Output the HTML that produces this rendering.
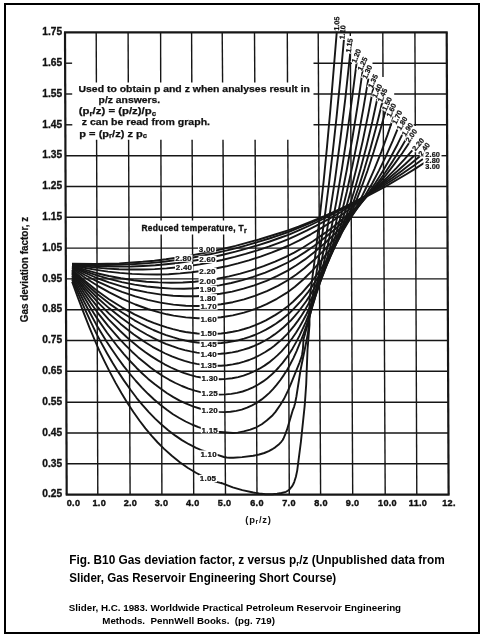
<!DOCTYPE html>
<html><head><meta charset="utf-8"><style>
html,body{margin:0;padding:0;background:#fff;}
body{width:483px;height:636px;overflow:hidden;position:relative;}
svg{position:absolute;left:0;top:0;}
text{font-family:"Liberation Sans",Arial,sans-serif;}
</style></head><body>
<svg width="483" height="636" viewBox="0 0 483 636" fill="#111">
<rect x="5" y="4" width="474" height="629" fill="none" stroke="#000" stroke-width="2"/>
<line x1="65.0" y1="32.4" x2="66.7" y2="494.6" stroke="#161616" stroke-width="2.2"/>
<line x1="96.2" y1="32.4" x2="96.4" y2="82.5" stroke="#161616" stroke-width="1.4"/>
<line x1="96.6" y1="139.8" x2="97.8" y2="494.6" stroke="#161616" stroke-width="1.4"/>
<line x1="128.1" y1="32.4" x2="128.3" y2="82.5" stroke="#161616" stroke-width="1.4"/>
<line x1="128.6" y1="139.8" x2="130.1" y2="494.6" stroke="#161616" stroke-width="1.4"/>
<line x1="160.6" y1="32.4" x2="160.7" y2="82.5" stroke="#161616" stroke-width="1.4"/>
<line x1="160.9" y1="139.8" x2="161.1" y2="220.5" stroke="#161616" stroke-width="1.4"/>
<line x1="161.2" y1="234.5" x2="161.9" y2="494.6" stroke="#161616" stroke-width="1.4"/>
<line x1="191.6" y1="32.4" x2="191.8" y2="82.5" stroke="#161616" stroke-width="1.4"/>
<line x1="192.1" y1="139.8" x2="192.5" y2="220.5" stroke="#161616" stroke-width="1.4"/>
<line x1="192.5" y1="234.5" x2="193.7" y2="494.6" stroke="#161616" stroke-width="1.4"/>
<line x1="222.2" y1="32.4" x2="222.6" y2="82.5" stroke="#161616" stroke-width="1.4"/>
<line x1="223.0" y1="139.8" x2="223.5" y2="220.5" stroke="#161616" stroke-width="1.4"/>
<line x1="223.6" y1="234.5" x2="225.5" y2="494.6" stroke="#161616" stroke-width="1.4"/>
<line x1="254.5" y1="32.4" x2="254.8" y2="82.5" stroke="#161616" stroke-width="1.4"/>
<line x1="255.1" y1="139.8" x2="257.0" y2="494.6" stroke="#161616" stroke-width="1.4"/>
<line x1="287.3" y1="32.4" x2="287.5" y2="82.5" stroke="#161616" stroke-width="1.4"/>
<line x1="287.8" y1="139.8" x2="289.3" y2="494.6" stroke="#161616" stroke-width="1.4"/>
<line x1="318.2" y1="32.4" x2="320.6" y2="494.6" stroke="#161616" stroke-width="1.4"/>
<line x1="350.3" y1="32.4" x2="350.3" y2="36.0" stroke="#161616" stroke-width="1.4"/>
<line x1="350.4" y1="52.0" x2="352.7" y2="494.6" stroke="#161616" stroke-width="1.4"/>
<line x1="382.8" y1="32.4" x2="383.0" y2="77.0" stroke="#161616" stroke-width="1.4"/>
<line x1="383.2" y1="103.0" x2="385.2" y2="494.6" stroke="#161616" stroke-width="1.4"/>
<line x1="414.9" y1="32.4" x2="415.3" y2="126.0" stroke="#161616" stroke-width="1.4"/>
<line x1="415.4" y1="152.0" x2="416.8" y2="494.6" stroke="#161616" stroke-width="1.4"/>
<line x1="446.7" y1="32.4" x2="448.6" y2="494.6" stroke="#161616" stroke-width="2.2"/>
<line x1="64.0" y1="32.4" x2="447.7" y2="32.4" stroke="#161616" stroke-width="2.2"/>
<line x1="65.1" y1="63.2" x2="72.1" y2="63.2" stroke="#161616" stroke-width="1.4"/>
<line x1="313.5" y1="63.2" x2="352.0" y2="63.2" stroke="#161616" stroke-width="1.4"/>
<line x1="372.5" y1="63.2" x2="446.8" y2="63.2" stroke="#161616" stroke-width="1.4"/>
<line x1="65.2" y1="94.0" x2="72.2" y2="94.0" stroke="#161616" stroke-width="1.4"/>
<line x1="313.5" y1="94.0" x2="371.0" y2="94.0" stroke="#161616" stroke-width="1.4"/>
<line x1="394.2" y1="94.0" x2="447.0" y2="94.0" stroke="#161616" stroke-width="1.4"/>
<line x1="65.3" y1="124.8" x2="72.3" y2="124.8" stroke="#161616" stroke-width="1.4"/>
<line x1="313.5" y1="124.8" x2="392.0" y2="124.8" stroke="#161616" stroke-width="1.4"/>
<line x1="410.3" y1="124.8" x2="447.1" y2="124.8" stroke="#161616" stroke-width="1.4"/>
<line x1="65.5" y1="155.7" x2="424.0" y2="155.7" stroke="#161616" stroke-width="1.4"/>
<line x1="441.0" y1="155.7" x2="447.2" y2="155.7" stroke="#161616" stroke-width="1.4"/>
<line x1="65.6" y1="186.5" x2="447.3" y2="186.5" stroke="#161616" stroke-width="1.4"/>
<line x1="65.7" y1="217.3" x2="447.5" y2="217.3" stroke="#161616" stroke-width="1.4"/>
<line x1="65.8" y1="248.1" x2="447.6" y2="248.1" stroke="#161616" stroke-width="1.4"/>
<line x1="65.9" y1="278.9" x2="447.7" y2="278.9" stroke="#161616" stroke-width="1.4"/>
<line x1="66.0" y1="309.7" x2="447.8" y2="309.7" stroke="#161616" stroke-width="1.4"/>
<line x1="66.1" y1="340.5" x2="448.0" y2="340.5" stroke="#161616" stroke-width="1.4"/>
<line x1="66.2" y1="371.3" x2="448.1" y2="371.3" stroke="#161616" stroke-width="1.4"/>
<line x1="66.4" y1="402.2" x2="448.2" y2="402.2" stroke="#161616" stroke-width="1.4"/>
<line x1="66.5" y1="433.0" x2="448.3" y2="433.0" stroke="#161616" stroke-width="1.4"/>
<line x1="66.6" y1="463.8" x2="448.5" y2="463.8" stroke="#161616" stroke-width="1.4"/>
<line x1="65.7" y1="494.6" x2="449.6" y2="494.6" stroke="#161616" stroke-width="2.2"/>
<path d="M72.1,281.8 L77.9,297.8 L83.7,312.9 L89.4,327.3 L95.1,341.0 L99.2,350.3 L105.0,362.3 L110.3,372.9 L115.6,382.9 L121.4,393.0 L127.1,402.4 L133.4,412.0 L139.4,420.5 L145.4,428.4 L151.5,435.7 L157.7,442.5 L164.1,448.9 L171.8,455.8 L179.8,462.2 L188.0,468.0 L196.4,473.0 L203.3,476.6 L210.1,479.6 L216.4,481.8 L220.3,482.9 L221.6,483.2 L221.1,482.9 L232.8,487.4 L242.3,490.1 L253.3,492.5 L259.1,493.5 L265.8,494.2 L272.3,494.2 L277.1,493.7 L281.5,493.0 L286.0,491.8 L287.8,490.7 L289.5,489.4 L291.8,486.7 L293.1,484.5 L294.3,481.8 L295.9,476.7 L297.2,470.6 L300.9,441.8 L304.7,405.7 L306.2,384.2 L307.5,350.0 L309.5,325.0 L309.5,297.5 L309.5,297.4 L309.7,297.7 L309.7,297.6 L311.0,288.1 L315.6,252.7 L320.2,212.9 L323.7,180.6 L327.0,146.8 L330.3,110.4 L336.8,31.6" fill="none" stroke="#161616" stroke-width="1.9" stroke-linejoin="round"/>
<path d="M72.1,279.3 L78.2,293.8 L84.2,307.7 L90.3,320.9 L96.3,333.4 L101.3,342.9 L107.0,353.2 L112.4,362.5 L117.9,371.4 L124.2,380.9 L130.5,389.8 L136.5,397.8 L142.6,405.2 L148.8,412.1 L155.1,418.6 L161.4,424.5 L168.2,430.3 L175.0,435.4 L181.9,440.1 L188.9,444.2 L196.1,447.8 L202.3,450.5 L208.5,452.6 L213.4,454.0 L217.4,454.9 L223.9,457.0 L226.8,457.5 L229.7,457.7 L233.3,457.7 L242.1,457.1 L253.2,455.8 L259.2,454.5 L264.3,453.0 L268.8,451.1 L272.9,448.8 L274.9,447.6 L278.4,444.8 L281.3,441.8 L282.5,440.2 L283.5,438.5 L285.0,434.9 L287.0,429.7 L292.6,410.7 L294.1,406.8 L295.1,403.2 L296.4,396.5 L300.4,370.8 L306.5,340.8 L308.0,332.6 L308.5,327.4 L308.8,315.3 L309.1,314.9 L309.5,312.7 L313.0,293.9 L318.2,262.1 L323.8,223.8 L328.9,184.4 L332.8,151.3 L336.6,116.6 L340.3,79.6 L343.9,39.9" fill="none" stroke="#161616" stroke-width="1.9" stroke-linejoin="round"/>
<path d="M72.1,277.3 L78.2,290.0 L84.2,302.0 L90.3,313.5 L96.2,324.4 L101.2,332.8 L106.7,341.7 L112.1,349.8 L117.6,357.7 L123.7,366.1 L130.0,374.0 L135.9,381.0 L141.9,387.6 L148.0,393.8 L154.1,399.5 L160.3,404.8 L166.8,409.8 L173.0,414.2 L179.3,418.0 L185.6,421.5 L192.0,424.5 L198.4,427.1 L204.7,429.1 L210.9,430.7 L217.3,431.8 L233.0,433.0 L237.8,432.6 L243.7,431.4 L250.3,429.6 L256.4,427.3 L261.8,424.2 L266.7,420.5 L272.7,415.2 L275.5,411.9 L280.4,404.8 L283.9,399.1 L287.9,390.9 L291.1,383.3 L299.3,363.1 L301.3,357.7 L302.0,355.0 L302.9,349.2 L303.6,338.1 L303.8,338.3 L305.1,333.8 L309.4,317.6 L312.8,303.2 L316.2,288.2 L323.3,252.1 L329.6,215.0 L335.0,179.6 L340.2,140.5 L345.3,98.7 L350.2,53.3" fill="none" stroke="#161616" stroke-width="1.9" stroke-linejoin="round"/>
<path d="M72.1,275.5 L78.3,286.9 L84.5,297.8 L90.7,308.2 L96.5,317.4 L107.1,332.7 L118.1,347.2 L124.1,354.3 L130.5,361.5 L136.4,367.7 L142.3,373.5 L148.2,378.9 L154.5,384.1 L160.5,388.6 L167.1,393.3 L173.4,397.1 L180.1,400.8 L186.3,403.7 L193.0,406.4 L199.7,408.5 L205.9,410.1 L212.1,411.3 L218.4,411.9 L224.6,412.1 L230.5,411.8 L236.3,410.9 L241.7,409.6 L247.1,407.7 L252.1,405.4 L257.1,402.6 L261.7,399.4 L265.6,396.3 L269.4,392.9 L273.2,388.9 L276.6,384.9 L280.4,380.0 L283.8,375.1 L287.2,369.7 L290.1,364.5 L293.4,358.1 L296.6,351.1 L302.7,336.2 L308.8,318.8 L314.4,300.0 L320.9,275.3 L326.3,252.4 L331.6,226.8 L336.6,200.4 L341.9,168.8 L346.8,136.6 L352.1,98.2 L356.6,62.6" fill="none" stroke="#161616" stroke-width="1.9" stroke-linejoin="round"/>
<path d="M72.1,274.1 L84.6,293.9 L91.0,303.4 L97.0,311.8 L108.1,325.9 L119.2,338.6 L125.4,345.1 L132.0,351.7 L138.2,357.4 L144.4,362.6 L150.5,367.5 L156.7,371.9 L163.2,376.2 L169.3,379.8 L175.4,383.0 L181.9,386.0 L188.4,388.6 L194.9,390.7 L201.4,392.3 L207.5,393.5 L213.6,394.2 L219.6,394.6 L225.7,394.4 L231.3,393.9 L237.0,392.9 L242.6,391.5 L247.8,389.7 L253.0,387.4 L258.3,384.5 L263.1,381.4 L267.1,378.4 L271.1,375.1 L275.1,371.3 L278.6,367.5 L282.6,362.8 L286.2,358.2 L288.8,354.5 L292.6,348.4 L296.0,342.4 L299.4,335.9 L305.8,322.1 L312.1,306.2 L318.0,289.0 L324.4,268.0 L330.1,247.3 L335.7,224.2 L341.2,198.4 L346.8,169.7 L352.4,138.0 L357.6,105.7 L362.7,70.4" fill="none" stroke="#161616" stroke-width="1.9" stroke-linejoin="round"/>
<path d="M72.1,272.9 L84.6,290.4 L90.9,298.6 L97.1,306.4 L108.6,319.4 L120.2,331.0 L126.6,337.0 L133.0,342.6 L139.0,347.4 L145.4,352.3 L151.4,356.4 L157.8,360.4 L164.6,364.3 L170.9,367.5 L177.3,370.4 L183.6,372.8 L189.9,374.9 L196.2,376.6 L202.5,377.8 L208.4,378.7 L214.7,379.2 L220.5,379.3 L226.3,378.9 L232.2,378.2 L238.1,377.1 L243.5,375.6 L248.9,373.7 L253.9,371.5 L259.4,368.7 L264.5,365.6 L269.1,362.4 L273.2,359.1 L277.4,355.4 L281.5,351.3 L285.2,347.2 L288.9,342.8 L292.4,338.0 L296.0,332.7 L299.5,327.0 L303.0,320.8 L306.6,314.0 L310.1,306.7 L316.2,292.6 L323.4,273.9 L329.7,255.3 L335.5,235.8 L341.4,214.0 L346.8,191.7 L352.6,165.1 L358.0,137.9 L363.4,108.2 L368.4,78.6" fill="none" stroke="#161616" stroke-width="1.9" stroke-linejoin="round"/>
<path d="M72.1,271.8 L84.6,287.5 L97.2,301.7 L109.1,313.6 L120.6,323.9 L126.8,329.0 L133.5,334.2 L140.2,338.9 L146.4,343.0 L152.5,346.8 L158.7,350.2 L165.3,353.5 L171.9,356.4 L178.5,358.9 L184.5,360.9 L190.6,362.6 L196.7,363.9 L202.8,364.9 L208.9,365.5 L214.9,365.8 L221.0,365.7 L227.1,365.2 L232.7,364.4 L238.3,363.3 L244.0,361.7 L249.1,360.0 L254.3,357.8 L260.0,355.0 L265.3,352.0 L270.1,348.9 L274.4,345.7 L278.7,342.1 L283.1,338.2 L286.9,334.3 L290.2,330.7 L294.3,325.6 L298.0,320.6 L301.7,315.2 L305.3,309.4 L312.2,297.2 L318.6,284.2 L322.8,274.9 L326.5,265.9 L333.1,248.7 L339.2,230.8 L345.3,210.8 L351.4,188.6 L357.0,165.9 L362.7,141.1 L368.3,113.9 L373.5,86.8" fill="none" stroke="#161616" stroke-width="1.9" stroke-linejoin="round"/>
<path d="M72.1,270.9 L84.6,284.8 L97.1,297.5 L109.0,308.1 L120.9,317.6 L127.4,322.3 L133.8,326.7 L140.2,330.7 L146.7,334.5 L153.1,337.9 L159.0,340.8 L165.8,343.8 L172.2,346.2 L178.5,348.3 L184.8,350.1 L190.6,351.4 L196.9,352.6 L203.2,353.4 L209.0,353.8 L214.8,353.9 L220.6,353.7 L226.4,353.2 L232.3,352.4 L238.1,351.2 L243.5,349.7 L248.9,348.0 L254.2,345.9 L259.7,343.4 L265.2,340.5 L270.1,337.5 L274.6,334.4 L279.1,331.1 L283.6,327.3 L290.5,320.8 L294.7,316.1 L298.6,311.5 L306.2,301.2 L313.3,290.0 L321.4,275.3 L328.3,261.5 L335.1,245.8 L341.9,228.2 L348.3,210.0 L354.6,189.7 L360.5,169.1 L366.4,146.5 L372.3,121.8 L377.6,97.2" fill="none" stroke="#161616" stroke-width="1.9" stroke-linejoin="round"/>
<path d="M72.1,270.1 L84.6,282.5 L97.0,293.8 L109.3,303.6 L121.7,312.3 L134.5,320.3 L141.2,324.0 L147.3,327.1 L153.4,330.0 L159.6,332.6 L166.1,335.1 L172.7,337.2 L179.2,339.1 L185.3,340.5 L191.3,341.7 L197.3,342.5 L203.3,343.1 L209.3,343.4 L215.3,343.3 L221.3,343.0 L227.4,342.3 L232.9,341.4 L238.5,340.2 L244.1,338.7 L249.6,336.9 L254.7,335.0 L260.3,332.5 L266.0,329.6 L271.2,326.6 L275.8,323.7 L280.5,320.4 L285.1,316.7 L288.7,313.7 L292.7,309.9 L300.6,301.4 L308.5,291.6 L315.8,280.9 L324.4,267.0 L331.5,253.9 L338.5,239.2 L345.1,223.9 L352.2,205.5 L358.3,188.2 L364.4,169.1 L370.5,148.2 L376.6,125.4 L382.2,102.6" fill="none" stroke="#161616" stroke-width="1.9" stroke-linejoin="round"/>
<path d="M72.1,269.5 L84.5,280.5 L96.8,290.5 L109.0,299.2 L121.8,307.3 L134.5,314.3 L147.3,320.3 L153.6,322.9 L160.0,325.2 L166.8,327.4 L173.0,329.2 L179.2,330.7 L185.5,332.0 L191.2,332.8 L197.4,333.5 L203.6,333.9 L209.3,334.0 L215.6,333.9 L221.2,333.5 L227.0,332.8 L232.7,331.8 L238.5,330.6 L244.2,329.0 L249.5,327.3 L254.7,325.4 L260.6,322.9 L265.9,320.4 L275.5,314.9 L280.3,311.8 L285.1,308.3 L288.9,305.4 L293.0,301.8 L301.1,293.8 L309.3,284.5 L317.0,274.5 L325.3,262.4 L333.2,249.4 L340.5,235.7 L347.3,221.6 L354.7,204.6 L361.0,188.6 L367.4,171.0 L373.7,151.8 L380.0,130.9 L385.8,110.0" fill="none" stroke="#161616" stroke-width="1.9" stroke-linejoin="round"/>
<path d="M72.1,268.3 L84.7,277.5 L96.8,285.3 L109.3,292.4 L122.3,298.9 L135.4,304.5 L147.8,309.0 L160.2,312.7 L166.9,314.3 L173.6,315.6 L185.8,317.4 L198.0,318.3 L209.5,318.3 L221.1,317.3 L232.8,315.4 L244.0,312.7 L249.6,310.9 L255.2,308.9 L260.9,306.7 L266.6,304.2 L276.9,298.8 L286.6,292.9 L294.9,286.7 L303.0,279.7 L312.3,270.6 L321.6,260.1 L329.5,250.3 L337.3,239.3 L345.2,227.1 L353.1,213.5 L360.4,199.6 L367.2,185.5 L374.6,168.7 L381.3,151.8 L387.5,134.9 L393.6,116.8" fill="none" stroke="#161616" stroke-width="1.9" stroke-linejoin="round"/>
<path d="M72.1,267.5 L84.9,275.0 L97.2,281.4 L109.9,287.2 L121.9,291.9 L135.2,296.4 L147.8,299.9 L160.4,302.6 L173.4,304.6 L185.8,305.7 L197.5,306.0 L209.2,305.6 L221.0,304.3 L232.8,302.2 L244.1,299.4 L254.8,295.9 L266.9,291.1 L277.9,285.9 L288.2,280.0 L296.3,274.5 L304.4,268.3 L313.7,260.3 L323.7,250.6 L332.1,241.6 L340.4,231.6 L348.8,220.6 L357.2,208.3 L365.0,195.8 L372.3,183.2 L378.9,170.6 L385.5,157.1 L392.6,141.1 L399.7,123.8" fill="none" stroke="#161616" stroke-width="1.9" stroke-linejoin="round"/>
<path d="M72.1,266.8 L84.5,272.7 L96.8,278.0 L108.9,282.4 L121.7,286.4 L134.4,289.8 L147.2,292.4 L159.9,294.4 L173.1,295.8 L184.9,296.3 L196.7,296.2 L208.5,295.3 L220.3,293.8 L232.2,291.6 L243.6,288.7 L254.3,285.4 L266.5,280.8 L277.4,275.9 L287.7,270.6 L296.4,265.3 L305.0,259.4 L314.2,252.3 L325.4,242.7 L334.3,234.3 L342.5,225.7 L350.7,216.3 L359.7,205.2 L368.0,193.9 L375.7,182.5 L383.4,170.2 L390.3,158.0 L397.8,143.7 L404.7,129.6" fill="none" stroke="#161616" stroke-width="1.9" stroke-linejoin="round"/>
<path d="M72.1,266.2 L84.5,271.1 L96.9,275.4 L109.0,278.9 L121.8,282.1 L134.6,284.6 L146.7,286.5 L159.5,287.8 L172.0,288.6 L183.9,288.7 L195.7,288.2 L207.5,287.1 L219.3,285.4 L231.2,283.0 L242.5,280.2 L253.2,276.9 L265.3,272.6 L276.9,267.7 L287.8,262.5 L296.3,257.7 L304.7,252.4 L314.4,245.7 L325.6,237.1 L335.0,229.2 L343.7,221.2 L353.1,211.8 L361.9,202.2 L370.0,192.6 L378.1,182.3 L384.9,173.0 L392.8,161.1 L400.8,148.3 L408.1,135.6" fill="none" stroke="#161616" stroke-width="1.9" stroke-linejoin="round"/>
<path d="M72.1,265.7 L84.5,269.7 L96.8,273.2 L108.9,276.0 L120.9,278.3 L133.7,280.3 L146.4,281.7 L158.5,282.4 L171.0,282.7 L182.8,282.5 L194.6,281.7 L206.3,280.4 L217.3,278.7 L229.1,276.4 L240.3,273.6 L251.5,270.3 L263.6,266.1 L275.1,261.6 L285.8,256.8 L294.2,252.6 L303.1,247.5 L313.3,241.0 L325.1,232.9 L334.3,226.0 L343.4,218.5 L353.3,209.7 L361.9,201.5 L370.4,192.7 L379.0,183.2 L386.1,174.8 L394.5,163.9 L402.2,153.2 L409.9,141.8" fill="none" stroke="#161616" stroke-width="1.9" stroke-linejoin="round"/>
<path d="M72.1,265.0 L84.2,267.7 L96.3,269.9 L108.0,271.6 L119.7,272.9 L132.1,273.9 L144.6,274.4 L157.1,274.5 L168.6,274.2 L180.1,273.4 L191.5,272.3 L202.9,270.8 L214.2,268.8 L226.4,266.3 L238.0,263.4 L248.8,260.3 L260.5,256.6 L271.5,252.6 L281.8,248.5 L288.9,245.5 L299.4,240.4 L310.7,234.3 L322.1,227.6 L332.2,221.3 L341.5,215.0 L352.4,207.1 L361.8,199.8 L371.2,192.0 L379.8,184.3 L387.6,176.9 L396.1,168.3 L404.6,159.1 L412.3,150.3" fill="none" stroke="#161616" stroke-width="1.9" stroke-linejoin="round"/>
<path d="M72.1,264.5 L84.5,266.3 L96.0,267.6 L107.1,268.6 L119.0,269.2 L130.9,269.5 L142.8,269.5 L154.7,269.1 L166.5,268.4 L178.2,267.3 L189.0,266.0 L199.7,264.4 L211.3,262.3 L222.0,260.0 L234.7,256.9 L245.6,253.9 L257.5,250.3 L268.7,246.6 L279.0,242.8 L288.5,239.1 L296.7,235.4 L306.6,230.7 L316.4,225.7 L329.0,218.9 L340.1,212.5 L350.2,206.1 L361.4,198.8 L370.8,192.1 L380.3,185.1 L387.9,179.0 L397.2,171.2 L405.6,163.7 L414.0,155.8" fill="none" stroke="#161616" stroke-width="1.9" stroke-linejoin="round"/>
<path d="M72.1,264.2 L83.7,265.3 L95.3,266.0 L107.3,266.5 L119.3,266.6 L131.3,266.5 L143.3,266.0 L155.3,265.3 L166.2,264.3 L177.9,263.0 L188.7,261.4 L199.5,259.7 L211.1,257.4 L221.9,255.0 L235.5,251.7 L246.5,248.7 L258.5,245.1 L269.7,241.5 L280.9,237.5 L288.4,234.8 L298.2,230.7 L309.7,225.5 L323.2,219.0 L333.3,213.9 L343.4,208.5 L354.5,202.3 L363.8,196.7 L374.0,190.3 L383.3,184.2 L392.5,177.7 L401.6,170.9 L410.8,163.8 L419.6,156.6" fill="none" stroke="#161616" stroke-width="1.9" stroke-linejoin="round"/>
<path d="M72.1,263.9 L83.6,264.5 L95.2,264.9 L107.1,265.0 L119.0,264.8 L130.9,264.3 L142.8,263.6 L154.8,262.6 L165.6,261.5 L177.3,259.9 L188.9,258.2 L199.5,256.3 L211.1,254.0 L221.7,251.6 L235.5,248.3 L246.3,245.4 L258.2,241.9 L269.3,238.5 L280.3,234.8 L288.4,232.0 L298.0,228.2 L309.5,223.4 L324.0,217.0 L343.8,207.5 L364.8,196.5 L383.8,185.5 L393.7,179.3 L403.6,172.8 L413.4,166.0 L422.9,159.1" fill="none" stroke="#161616" stroke-width="1.9" stroke-linejoin="round"/>
<path d="M72.1,263.7 L94.8,264.0 L107.5,263.8 L119.2,263.4 L142.7,261.8 L154.4,260.7 L166.0,259.3 L188.9,255.9 L210.6,251.7 L235.6,245.9 L259.0,239.5 L281.6,232.5 L288.1,230.4 L298.4,226.6 L309.7,222.1 L324.3,216.1 L345.5,206.7 L365.8,196.8 L385.2,186.6 L406.3,174.3 L415.8,168.4 L426.3,161.5" fill="none" stroke="#161616" stroke-width="1.9" stroke-linejoin="round"/>
<text x="62.3" y="35.1" font-size="10.2" font-weight="bold" text-anchor="end" letter-spacing="0.05" stroke="#111" stroke-width="0.32">1.75</text>
<text x="62.3" y="65.9" font-size="10.2" font-weight="bold" text-anchor="end" letter-spacing="0.05" stroke="#111" stroke-width="0.32">1.65</text>
<text x="62.3" y="96.7" font-size="10.2" font-weight="bold" text-anchor="end" letter-spacing="0.05" stroke="#111" stroke-width="0.32">1.55</text>
<text x="62.3" y="127.5" font-size="10.2" font-weight="bold" text-anchor="end" letter-spacing="0.05" stroke="#111" stroke-width="0.32">1.45</text>
<text x="62.3" y="158.4" font-size="10.2" font-weight="bold" text-anchor="end" letter-spacing="0.05" stroke="#111" stroke-width="0.32">1.35</text>
<text x="62.3" y="189.2" font-size="10.2" font-weight="bold" text-anchor="end" letter-spacing="0.05" stroke="#111" stroke-width="0.32">1.25</text>
<text x="62.3" y="220.0" font-size="10.2" font-weight="bold" text-anchor="end" letter-spacing="0.05" stroke="#111" stroke-width="0.32">1.15</text>
<text x="62.3" y="250.8" font-size="10.2" font-weight="bold" text-anchor="end" letter-spacing="0.05" stroke="#111" stroke-width="0.32">1.05</text>
<text x="62.3" y="281.6" font-size="10.2" font-weight="bold" text-anchor="end" letter-spacing="0.05" stroke="#111" stroke-width="0.32">0.95</text>
<text x="62.3" y="312.4" font-size="10.2" font-weight="bold" text-anchor="end" letter-spacing="0.05" stroke="#111" stroke-width="0.32">0.85</text>
<text x="62.3" y="343.2" font-size="10.2" font-weight="bold" text-anchor="end" letter-spacing="0.05" stroke="#111" stroke-width="0.32">0.75</text>
<text x="62.3" y="374.0" font-size="10.2" font-weight="bold" text-anchor="end" letter-spacing="0.05" stroke="#111" stroke-width="0.32">0.65</text>
<text x="62.3" y="404.9" font-size="10.2" font-weight="bold" text-anchor="end" letter-spacing="0.05" stroke="#111" stroke-width="0.32">0.55</text>
<text x="62.3" y="435.7" font-size="10.2" font-weight="bold" text-anchor="end" letter-spacing="0.05" stroke="#111" stroke-width="0.32">0.45</text>
<text x="62.3" y="466.5" font-size="10.2" font-weight="bold" text-anchor="end" letter-spacing="0.05" stroke="#111" stroke-width="0.32">0.35</text>
<text x="62.3" y="497.3" font-size="10.2" font-weight="bold" text-anchor="end" letter-spacing="0.05" stroke="#111" stroke-width="0.32">0.25</text>
<text x="73.5" y="506" font-size="9.1" font-weight="bold" text-anchor="middle" letter-spacing="0.3" stroke="#111" stroke-width="0.4">0.0</text>
<text x="99.3" y="506" font-size="9.1" font-weight="bold" text-anchor="middle" letter-spacing="0.3" stroke="#111" stroke-width="0.4">1.0</text>
<text x="130.4" y="506" font-size="9.1" font-weight="bold" text-anchor="middle" letter-spacing="0.3" stroke="#111" stroke-width="0.4">2.0</text>
<text x="161.5" y="506" font-size="9.1" font-weight="bold" text-anchor="middle" letter-spacing="0.3" stroke="#111" stroke-width="0.4">3.0</text>
<text x="192.8" y="506" font-size="9.1" font-weight="bold" text-anchor="middle" letter-spacing="0.3" stroke="#111" stroke-width="0.4">4.0</text>
<text x="224.6" y="506" font-size="9.1" font-weight="bold" text-anchor="middle" letter-spacing="0.3" stroke="#111" stroke-width="0.4">5.0</text>
<text x="257" y="506" font-size="9.1" font-weight="bold" text-anchor="middle" letter-spacing="0.3" stroke="#111" stroke-width="0.4">6.0</text>
<text x="289" y="506" font-size="9.1" font-weight="bold" text-anchor="middle" letter-spacing="0.3" stroke="#111" stroke-width="0.4">7.0</text>
<text x="321" y="506" font-size="9.1" font-weight="bold" text-anchor="middle" letter-spacing="0.3" stroke="#111" stroke-width="0.4">8.0</text>
<text x="352.6" y="506" font-size="9.1" font-weight="bold" text-anchor="middle" letter-spacing="0.3" stroke="#111" stroke-width="0.4">9.0</text>
<text x="387.5" y="506" font-size="9.1" font-weight="bold" text-anchor="middle" letter-spacing="0.3" stroke="#111" stroke-width="0.4">10.0</text>
<text x="418" y="506" font-size="9.1" font-weight="bold" text-anchor="middle" letter-spacing="0.3" stroke="#111" stroke-width="0.4">11.0</text>
<text x="449" y="506" font-size="9.1" font-weight="bold" text-anchor="middle" letter-spacing="0.3" stroke="#111" stroke-width="0.4">12.</text>
<text x="245.3" y="522.5" font-size="9.4" font-weight="bold" textLength="25.6" lengthAdjust="spacing">(p<tspan font-size="6.8" dy="1.8">r</tspan><tspan dy="-1.8">/z)</tspan></text>
<text transform="translate(27.9,322.3) rotate(-90)" font-size="10.3" font-weight="bold" stroke="#111" stroke-width="0.2" textLength="105.5" lengthAdjust="spacingAndGlyphs">Gas deviation factor, z</text>
<g font-size="9.3" font-weight="bold" stroke="#111" stroke-width="0.25">
<text x="78.5" y="91.8" textLength="231.5" lengthAdjust="spacingAndGlyphs">Used to obtain p and z when analyses result in</text>
<text x="98.6" y="103" textLength="61.5" lengthAdjust="spacingAndGlyphs">p/z answers.</text>
<text x="78.8" y="114.2" textLength="77.3" lengthAdjust="spacingAndGlyphs">(p<tspan font-size="6.5" dy="1.6">r</tspan><tspan dy="-1.6">/z) = (p/z)/p</tspan><tspan font-size="6.5" dy="1.6">c</tspan></text>
<text x="81.8" y="125.3" textLength="128.2" lengthAdjust="spacingAndGlyphs">z can be read from graph.</text>
<text x="79.3" y="136.5" textLength="67.8" lengthAdjust="spacingAndGlyphs">p = (p<tspan font-size="6.5" dy="1.6">r</tspan><tspan dy="-1.6">/z) z p</tspan><tspan font-size="6.5" dy="1.6">c</tspan></text>
</g>
<rect x="139" y="221" width="115" height="13" fill="#fff"/>
<text x="141.5" y="231" font-size="8.4" font-weight="bold" letter-spacing="0.3" stroke="#111" stroke-width="0.35">Reduced temperature, T<tspan font-size="6.8" dy="1.5">r</tspan></text>
<rect x="198.0" y="245.1" width="18" height="7.2" fill="#fff"/>
<text x="207.0" y="251.6" font-size="8.0" font-weight="bold" text-anchor="middle" letter-spacing="0.2" stroke="#111" stroke-width="0.22">3.00</text>
<rect x="174.5" y="254.6" width="18" height="7.2" fill="#fff"/>
<text x="183.5" y="261.1" font-size="8.0" font-weight="bold" text-anchor="middle" letter-spacing="0.2" stroke="#111" stroke-width="0.22">2.80</text>
<rect x="198.5" y="255.8" width="18" height="7.2" fill="#fff"/>
<text x="207.5" y="262.3" font-size="8.0" font-weight="bold" text-anchor="middle" letter-spacing="0.2" stroke="#111" stroke-width="0.22">2.60</text>
<rect x="175.0" y="263.9" width="18" height="7.2" fill="#fff"/>
<text x="184.0" y="270.4" font-size="8.0" font-weight="bold" text-anchor="middle" letter-spacing="0.2" stroke="#111" stroke-width="0.22">2.40</text>
<rect x="198.5" y="267.7" width="18" height="7.2" fill="#fff"/>
<text x="207.5" y="274.2" font-size="8.0" font-weight="bold" text-anchor="middle" letter-spacing="0.2" stroke="#111" stroke-width="0.22">2.20</text>
<rect x="198.6" y="277.1" width="18" height="7.2" fill="#fff"/>
<text x="207.6" y="283.6" font-size="8.0" font-weight="bold" text-anchor="middle" letter-spacing="0.2" stroke="#111" stroke-width="0.22">2.00</text>
<rect x="199.0" y="285.6" width="18" height="7.2" fill="#fff"/>
<text x="208.0" y="292.1" font-size="8.0" font-weight="bold" text-anchor="middle" letter-spacing="0.2" stroke="#111" stroke-width="0.22">1.90</text>
<rect x="199.0" y="294.1" width="18" height="7.2" fill="#fff"/>
<text x="208.0" y="300.6" font-size="8.0" font-weight="bold" text-anchor="middle" letter-spacing="0.2" stroke="#111" stroke-width="0.22">1.80</text>
<rect x="199.6" y="302.6" width="18" height="7.2" fill="#fff"/>
<text x="208.6" y="309.1" font-size="8.0" font-weight="bold" text-anchor="middle" letter-spacing="0.2" stroke="#111" stroke-width="0.22">1.70</text>
<rect x="199.6" y="315.3" width="18" height="7.2" fill="#fff"/>
<text x="208.6" y="321.8" font-size="8.0" font-weight="bold" text-anchor="middle" letter-spacing="0.2" stroke="#111" stroke-width="0.22">1.60</text>
<rect x="199.6" y="329.1" width="18" height="7.2" fill="#fff"/>
<text x="208.6" y="335.6" font-size="8.0" font-weight="bold" text-anchor="middle" letter-spacing="0.2" stroke="#111" stroke-width="0.22">1.50</text>
<rect x="199.6" y="340.7" width="18" height="7.2" fill="#fff"/>
<text x="208.6" y="347.2" font-size="8.0" font-weight="bold" text-anchor="middle" letter-spacing="0.2" stroke="#111" stroke-width="0.22">1.45</text>
<rect x="199.6" y="350.6" width="18" height="7.2" fill="#fff"/>
<text x="208.6" y="357.1" font-size="8.0" font-weight="bold" text-anchor="middle" letter-spacing="0.2" stroke="#111" stroke-width="0.22">1.40</text>
<rect x="199.6" y="361.4" width="18" height="7.2" fill="#fff"/>
<text x="208.6" y="367.9" font-size="8.0" font-weight="bold" text-anchor="middle" letter-spacing="0.2" stroke="#111" stroke-width="0.22">1.35</text>
<rect x="200.8" y="374.3" width="18" height="7.2" fill="#fff"/>
<text x="209.8" y="380.8" font-size="8.0" font-weight="bold" text-anchor="middle" letter-spacing="0.2" stroke="#111" stroke-width="0.22">1.30</text>
<rect x="200.8" y="389.0" width="18" height="7.2" fill="#fff"/>
<text x="209.8" y="395.5" font-size="8.0" font-weight="bold" text-anchor="middle" letter-spacing="0.2" stroke="#111" stroke-width="0.22">1.25</text>
<rect x="200.8" y="406.6" width="18" height="7.2" fill="#fff"/>
<text x="209.8" y="413.1" font-size="8.0" font-weight="bold" text-anchor="middle" letter-spacing="0.2" stroke="#111" stroke-width="0.22">1.20</text>
<rect x="200.8" y="426.1" width="18" height="7.2" fill="#fff"/>
<text x="209.8" y="432.6" font-size="8.0" font-weight="bold" text-anchor="middle" letter-spacing="0.2" stroke="#111" stroke-width="0.22">1.15</text>
<rect x="199.6" y="450.4" width="18" height="7.2" fill="#fff"/>
<text x="208.6" y="456.9" font-size="8.0" font-weight="bold" text-anchor="middle" letter-spacing="0.2" stroke="#111" stroke-width="0.22">1.10</text>
<rect x="199.0" y="474.9" width="18" height="7.2" fill="#fff"/>
<text x="208.0" y="481.4" font-size="8.0" font-weight="bold" text-anchor="middle" letter-spacing="0.2" stroke="#111" stroke-width="0.22">1.05</text>
<g transform="translate(336.6,23.6) rotate(-88)"><text x="0" y="2.6" font-size="7.3" font-weight="bold" text-anchor="middle" stroke="#111" stroke-width="0.2">1.05</text></g>
<g transform="translate(342.5,32.2) rotate(-85)"><text x="0" y="2.6" font-size="7.3" font-weight="bold" text-anchor="middle" stroke="#111" stroke-width="0.2">1.10</text></g>
<g transform="translate(349.2,45.7) rotate(-81)"><rect x="-7.6" y="-3.2" width="15.2" height="6.4" fill="#fff"/><text x="0" y="2.6" font-size="7.3" font-weight="bold" text-anchor="middle" stroke="#111" stroke-width="0.2">1.15</text></g>
<g transform="translate(356.1,55.9) rotate(-69)"><rect x="-7.6" y="-3.2" width="15.2" height="6.4" fill="#fff"/><text x="0" y="2.6" font-size="7.3" font-weight="bold" text-anchor="middle" stroke="#111" stroke-width="0.2">1.20</text></g>
<g transform="translate(362.4,63.9) rotate(-64)"><rect x="-7.6" y="-3.2" width="15.2" height="6.4" fill="#fff"/><text x="0" y="2.6" font-size="7.3" font-weight="bold" text-anchor="middle" stroke="#111" stroke-width="0.2">1.25</text></g>
<g transform="translate(367.1,72) rotate(-65)"><rect x="-7.6" y="-3.2" width="15.2" height="6.4" fill="#fff"/><text x="0" y="2.6" font-size="7.3" font-weight="bold" text-anchor="middle" stroke="#111" stroke-width="0.2">1.30</text></g>
<g transform="translate(372.9,81.2) rotate(-64)"><rect x="-7.6" y="-3.2" width="15.2" height="6.4" fill="#fff"/><text x="0" y="2.6" font-size="7.3" font-weight="bold" text-anchor="middle" stroke="#111" stroke-width="0.2">1.35</text></g>
<g transform="translate(377,90.9) rotate(-65)"><rect x="-7.6" y="-3.2" width="15.2" height="6.4" fill="#fff"/><text x="0" y="2.6" font-size="7.3" font-weight="bold" text-anchor="middle" stroke="#111" stroke-width="0.2">1.40</text></g>
<g transform="translate(382.4,95.3) rotate(-66)"><rect x="-7.6" y="-3.2" width="15.2" height="6.4" fill="#fff"/><text x="0" y="2.6" font-size="7.3" font-weight="bold" text-anchor="middle" stroke="#111" stroke-width="0.2">1.45</text></g>
<g transform="translate(386.8,103.8) rotate(-65)"><rect x="-7.6" y="-3.2" width="15.2" height="6.4" fill="#fff"/><text x="0" y="2.6" font-size="7.3" font-weight="bold" text-anchor="middle" stroke="#111" stroke-width="0.2">1.50</text></g>
<g transform="translate(391.2,110.3) rotate(-66)"><rect x="-7.6" y="-3.2" width="15.2" height="6.4" fill="#fff"/><text x="0" y="2.6" font-size="7.3" font-weight="bold" text-anchor="middle" stroke="#111" stroke-width="0.2">1.60</text></g>
<g transform="translate(397,117.2) rotate(-65)"><rect x="-7.6" y="-3.2" width="15.2" height="6.4" fill="#fff"/><text x="0" y="2.6" font-size="7.3" font-weight="bold" text-anchor="middle" stroke="#111" stroke-width="0.2">1.70</text></g>
<g transform="translate(402,123.4) rotate(-60)"><rect x="-7.6" y="-3.2" width="15.2" height="6.4" fill="#fff"/><text x="0" y="2.6" font-size="7.3" font-weight="bold" text-anchor="middle" stroke="#111" stroke-width="0.2">1.80</text></g>
<g transform="translate(407.3,129.3) rotate(-56)"><rect x="-7.6" y="-3.2" width="15.2" height="6.4" fill="#fff"/><text x="0" y="2.6" font-size="7.3" font-weight="bold" text-anchor="middle" stroke="#111" stroke-width="0.2">1.90</text></g>
<g transform="translate(411.3,135.6) rotate(-55)"><rect x="-7.6" y="-3.2" width="15.2" height="6.4" fill="#fff"/><text x="0" y="2.6" font-size="7.3" font-weight="bold" text-anchor="middle" stroke="#111" stroke-width="0.2">2.00</text></g>
<g transform="translate(418,144.5) rotate(-50)"><rect x="-7.6" y="-3.2" width="15.2" height="6.4" fill="#fff"/><text x="0" y="2.6" font-size="7.3" font-weight="bold" text-anchor="middle" stroke="#111" stroke-width="0.2">2.20</text></g>
<g transform="translate(424,149.2) rotate(-55)"><rect x="-7.6" y="-3.2" width="15.2" height="6.4" fill="#fff"/><text x="0" y="2.6" font-size="7.3" font-weight="bold" text-anchor="middle" stroke="#111" stroke-width="0.2">2.40</text></g>
<rect x="423.5" y="151.5" width="18" height="18.5" fill="#fff"/>
<text x="425.3" y="157.4" font-size="7.4" font-weight="bold" letter-spacing="0.1" stroke="#111" stroke-width="0.2">2.60</text>
<text x="425.3" y="163.3" font-size="7.4" font-weight="bold" letter-spacing="0.1" stroke="#111" stroke-width="0.2">2.80</text>
<text x="425.3" y="169.3" font-size="7.4" font-weight="bold" letter-spacing="0.1" stroke="#111" stroke-width="0.2">3.00</text>
<text fill="#000" x="69.2" y="564.1" font-size="12" font-weight="bold" textLength="375.5" lengthAdjust="spacingAndGlyphs">Fig. B10 Gas deviation factor, z versus p<tspan font-size="8" dy="2">r</tspan><tspan dy="-2">/z (Unpublished data from</tspan></text>
<text fill="#000" x="69.2" y="582.3" font-size="12" font-weight="bold" textLength="267" lengthAdjust="spacingAndGlyphs">Slider, Gas Reservoir Engineering Short Course)</text>
<text fill="#000" x="68.8" y="610.9" font-size="9.6" font-weight="bold" textLength="332.3" lengthAdjust="spacingAndGlyphs">Slider, H.C. 1983. Worldwide Practical Petroleum Reservoir Engineering</text>
<text fill="#000" x="102.3" y="624.1" font-size="9.6" font-weight="bold" textLength="172.6" lengthAdjust="spacingAndGlyphs" xml:space="preserve">Methods.  PennWell Books.  (pg. 719)</text>
</svg>
</body></html>
